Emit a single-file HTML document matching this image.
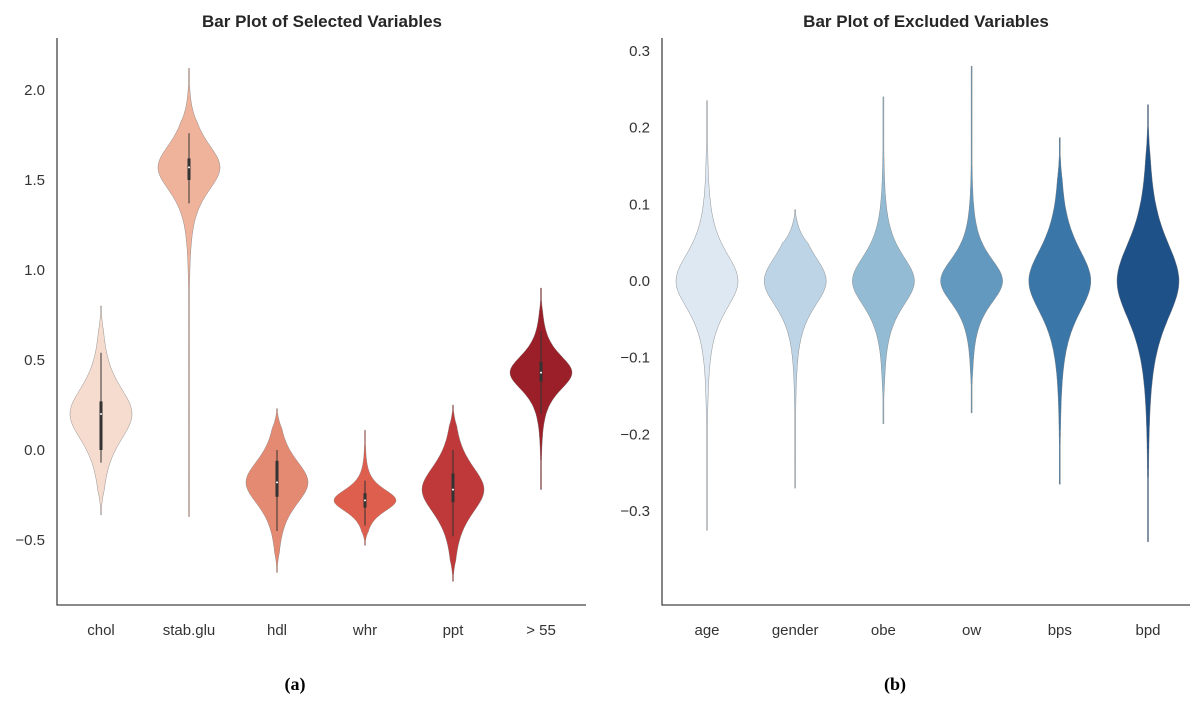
<!DOCTYPE html>
<html><head><meta charset="utf-8"><style>
body{margin:0;background:#fff;width:1200px;height:696px;overflow:hidden}
svg text{font-family:"Liberation Sans",sans-serif}
</style></head><body>
<svg id="c" width="1200" height="696" viewBox="0 0 1200 696" xmlns="http://www.w3.org/2000/svg">
<text x="322" y="27" font-size="17" font-weight="bold" fill="#262626" text-anchor="middle">Bar Plot of Selected Variables</text>
<text x="926" y="27" font-size="17" font-weight="bold" fill="#262626" text-anchor="middle">Bar Plot of Excluded Variables</text>
<text x="295" y="690" font-size="18" font-weight="bold" text-anchor="middle" style="font-family:'Liberation Serif',serif">(a)</text>
<text x="895" y="690" font-size="18" font-weight="bold" text-anchor="middle" style="font-family:'Liberation Serif',serif">(b)</text>
</svg>
<script>
const leftCats=["chol","stab.glu","hdl","whr","ppt","> 55"];
const leftMu=[0.2,1.57,-0.18,-0.28,-0.22,0.43];
const leftSd=[0.17,0.15,0.14,0.07,0.15,0.11];
const leftMin=[-0.36,-0.37,-0.68,-0.53,-0.73,-0.22];
const leftMax=[0.8,2.12,0.23,0.11,0.25,0.9];
const leftQ1=[0.0,1.5,-0.26,-0.32,-0.29,0.38];
const leftQ3=[0.27,1.62,-0.06,-0.24,-0.13,0.49];
const leftWlo=[-0.07,1.37,-0.45,-0.42,-0.48,0.2];
const leftWhi=[0.54,1.76,0.0,-0.17,0.0,0.66];
const leftTicks=[-0.5,0.0,0.5,1.0,1.5,2.0];
const leftColors=["#f6dccf","#efb39c","#e48a72","#de5f4d","#c0393a","#9b1f28"];

const rightCats=["age","gender","obe","ow","bps","bpd"];
const rightMu=[0,0,0,0,0,0];
const rightSd=[0.042,0.038,0.038,0.034,0.048,0.058];
const rightMin=[-0.325,-0.27,-0.186,-0.172,-0.265,-0.34];
const rightMax=[0.235,0.093,0.24,0.28,0.187,0.23];
const rightTicks=[-0.3,-0.2,-0.1,0.0,0.1,0.2,0.3];
const rightColors=["#dde8f3","#bdd4e6","#93bcd4","#6399bf","#3a76a8","#1f5189"];

const svg=document.getElementById('c');
const NS="http://www.w3.org/2000/svg";
function mk(t,a){const e=document.createElementNS(NS,t);for(const k in a)e.setAttribute(k,a[k]);svg.appendChild(e);return e;}

function panel(p){
  const yS=v=>p.y0+(v-p.v0)*p.k;
  const xS=i=>p.x0+p.step*i;
  const ax=mk('path',{d:`M${p.axL} 38V605H${p.axR}`,fill:'none',stroke:'#444','stroke-width':1.3});
  
  
  p.ticks.forEach(t=>{
    const tx=mk('text',{x:p.axL-12,y:yS(t)+5,'font-size':15,fill:'#333','text-anchor':'end'});
    tx.textContent=t<0?'\u2212'+Math.abs(t).toFixed(1):t.toFixed(1);
    
    
  });
  p.cats.forEach((c,i)=>{
    const cx=xS(i);
    const tx=mk('text',{x:cx,y:635,'font-size':15,fill:'#333','text-anchor':'middle'});
    tx.textContent=c;
    
    
    const W=31,n=200,R=[],L=[];
    const rng=p.max[i]-p.min[i];
    for(let j=0;j<=n;j++){
      const v=p.max[i]-rng*j/n;
      const z=(v-p.mu[i])/p.sd[i];
      let w=W*Math.pow(1+z*z/3,-2);
      const d=Math.min(v-p.min[i],p.max[i]-v);
      w*=Math.min(1,d/(0.12*rng));
      w=Math.max(w,0.5);
      R.push([cx+w,yS(v)]);L.push([cx-w,yS(v)]);
    }
    const pts=R.concat(L.reverse());
    const path=mk('path',{d:'M'+pts.map(q=>q[0].toFixed(1)+' '+q[1].toFixed(1)).join('L')+'Z',fill:p.colors[i],stroke:'#777','stroke-width':0.4});
    
    
    if(p.q1){
      const wl=mk('line',{x1:cx,x2:cx,y1:yS(p.wlo[i]),y2:yS(p.whi[i]),stroke:'#333','stroke-width':1});
      
      
      const bx=mk('rect',{x:cx-1.5,width:3,y:yS(p.q3[i]),height:yS(p.q1[i])-yS(p.q3[i]),fill:'#333'});
      
      
      const md=mk('circle',{cx:cx,cy:yS(p.mu[i]),r:1,fill:'#fff'});
      
      
    }
  });
}
panel({id:'left',cats:leftCats,mu:leftMu,sd:leftSd,min:leftMin,max:leftMax,q1:leftQ1,q3:leftQ3,wlo:leftWlo,whi:leftWhi,ticks:leftTicks,colors:leftColors,y0:450,v0:0,k:-180,x0:101,step:88,axL:57,axR:586});
panel({id:'right',cats:rightCats,mu:rightMu,sd:rightSd,min:rightMin,max:rightMax,ticks:rightTicks,colors:rightColors,y0:281,v0:0,k:-767,x0:707,step:88.2,axL:662,axR:1190});
</script>
</body></html>
